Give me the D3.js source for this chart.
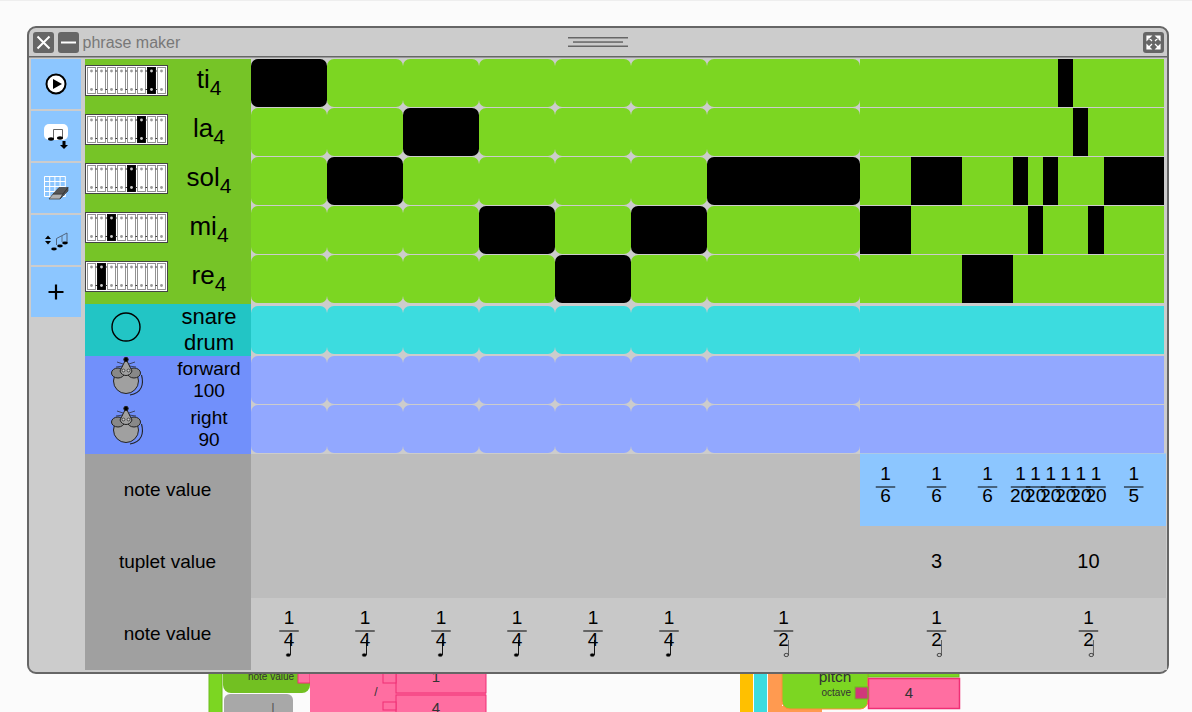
<!DOCTYPE html>
<html>
<head>
<meta charset="utf-8">
<title>phrase maker</title>
<script src="https://cdn.jsdelivr.net/npm/d3@7"></script>
<style>
	html, body { margin: 0; padding: 0; background: #fbfbfb; overflow: hidden; }
	svg { display: block; }
	text { font-family: "Liberation Sans", sans-serif; fill: #000; }
</style>
</head>
<body>
<script>
//--------------------------------------------------------------------------
// Chart values
//--------------------------------------------------------------------------
var pitchNames = ["ti", "la", "sol", "mi", "re"];
var pitchOctaves = [4, 4, 4, 4, 4];
var pitchKeys = [6, 5, 4, 2, 1];
var pitchCells = [[0, 13], [2, 14], [1, 6, 8, 10, 12, 16], [3, 5, 7, 11, 15], [4, 9]];

var drumLabels = ["snare", "drum"];
var mouseLabels = [["forward", "100"], ["right", "90"]];

// one entry per column of the top note value row
var cellDenoms = [4, 4, 4, 4, 4, 4, 2, 6, 6, 6, 20, 20, 20, 20, 20, 20, 5];
// the bottom note value row groups those columns
var groupDenoms = [4, 4, 4, 4, 4, 4, 2, 2, 2];
var tupletLabels = ["", "", "", "", "", "", "", "3", "10"];
var firstTupletCell = 7;
var rowTitles = ["note value", "tuplet value", "note value"];

//--------------------------------------------------------------------------
// Scales
//--------------------------------------------------------------------------
var cellEdges = [0].concat(Array.from(d3.cumsum(cellDenoms, function(d){ return 1 / d; })));
var groupEdges = [0].concat(Array.from(d3.cumsum(groupDenoms, function(d){ return 1 / d; })));

// the quarter notes, the half note and the tuplets do not get quite the same pixels per beat
var x = d3.scaleLinear().domain([0, 1.5, 2, 2.5, 3]).range([251, 707, 860, 1013, 1163.9]);
var y = d3.scaleLinear().domain([0, 1]).range([59, 108]);

var svg = d3.select("body").append("svg").attr("width", 1192).attr("height", 712);

function box(parent, bx, by, w, h, color, radius){
	return parent.append("rect").attr("x", bx).attr("y", by).attr("width", w).attr("height", h)
		.attr("rx", radius || 0).attr("fill", color);
}

function label(parent, tx, ty, str, size, color, anchor){
	return parent.append("text").attr("x", tx).attr("y", ty).attr("font-size", size)
		.attr("text-anchor", anchor || "middle").style("fill", color || "#000").text(str);
}

//--------------------------------------------------------------------------
// Blocks behind the window
//--------------------------------------------------------------------------
var blocks = svg.append("g");
box(blocks, 0, 0, 1192, 1, "#eeeeee");

box(blocks, 209, 660, 13, 60, "#7cd622").attr("stroke", "#6cbc1c");
box(blocks, 223, 660, 87, 33, "#72c022", 8);
box(blocks, 298, 672, 12, 11, "#ff6ea1").attr("stroke", "#ef2f74");
label(blocks, 271, 680, "note value", 10, "#333");
box(blocks, 224, 694, 69, 30, "#a8a8a8", 6);
label(blocks, 273, 712, "|", 13, "#555");
box(blocks, 310, 660, 176, 60, "#ff6ea1");
box(blocks, 396, 660, 90, 33, "#ff6ea1").attr("stroke", "#ef2f74");
box(blocks, 396, 695, 90, 30, "#ff6ea1").attr("stroke", "#ef2f74");
box(blocks, 383, 672, 13, 11, "#ff6ea1").attr("stroke", "#ef2f74");
box(blocks, 383, 702, 13, 8, "#ff6ea1").attr("stroke", "#ef2f74");
label(blocks, 436, 682, "1", 15, "#333");
label(blocks, 376, 696, "/", 12, "#333");
label(blocks, 436, 713, "4", 15, "#333");

box(blocks, 740, 660, 13, 52, "#ffc000");
box(blocks, 754, 660, 13, 52, "#3cdcdf");
box(blocks, 768, 660, 14, 52, "#ff9a50");
box(blocks, 782, 706, 40, 6, "#ff9a50");
box(blocks, 782, 660, 86, 49, "#7cd622", 8).attr("stroke", "#ff8c36");
box(blocks, 868, 660, 91, 17, "#7cd622").attr("stroke", "#6cbc1c");
box(blocks, 868.5, 678.5, 91, 30, "#ff6ea1").attr("stroke", "#ef2f74").attr("stroke-width", 1.5);
box(blocks, 855, 687, 13, 12, "#d0387a").attr("stroke", "#6cbc1c");
label(blocks, 835, 682, "pitch", 15.5, "#333");
label(blocks, 851, 696, "octave", 10, "#333", "end");
label(blocks, 909, 698, "4", 15, "#333");

//--------------------------------------------------------------------------
// Window frame and title bar
//--------------------------------------------------------------------------
var win = svg.append("g");
win.append("rect").attr("x", 28).attr("y", 27).attr("width", 1140).attr("height", 646).attr("rx", 8)
	.attr("fill", "#cccccc").attr("stroke", "#666666").attr("stroke-width", 2);
box(win, 29, 56, 1138, 1.5, "#666666");

label(win, 82.5, 48, "phrase maker", 16, "#787878", "start");

function titleButton(bx){
	return box(win, bx, 32, 21, 21, "#666666", 3);
}
titleButton(33);
titleButton(58);
titleButton(1143);
win.append("path").attr("d", "M37.5,36.5L49.5,48.5M49.5,36.5L37.5,48.5").attr("stroke", "#fff").attr("stroke-width", 2);
win.append("path").attr("d", "M61,42.5H76").attr("stroke", "#fff").attr("stroke-width", 2);
win.append("path")
	.attr("d", "M1147,36H1151L1147,40ZM1160,36H1156L1160,40ZM1147,49H1151L1147,45ZM1160,49H1156L1160,45Z" +
		"M1148,37L1152,41M1159,37L1155,41M1148,48L1152,44M1159,48L1155,44")
	.attr("fill", "#fff").attr("stroke", "#fff").attr("stroke-width", 1.2);

box(win, 568, 37, 60, 1.5, "#666666");
box(win, 573, 41.3, 50, 1.5, "#666666");
box(win, 568, 45.5, 60, 1.5, "#666666");

//--------------------------------------------------------------------------
// Side toolbar
//--------------------------------------------------------------------------
var toolbar = svg.append("g");
d3.range(5).forEach(function(i){
	box(toolbar, 31, 59 + i * 52, 50, 50, "#8cc6ff");
});

// play
toolbar.append("circle").attr("cx", 56).attr("cy", 84).attr("r", 9.5)
	.attr("fill", "#fff").attr("stroke", "#000").attr("stroke-width", 2);
toolbar.append("path").attr("d", "M53,79L62,84L53,89Z").attr("fill", "#000");

// save notes
box(toolbar, 44, 124, 24, 16, "#fff", 5);
toolbar.append("path").attr("d", "M53.5,139V129.5H62.5V138").attr("fill", "none").attr("stroke", "#555").attr("stroke-width", 0.9);
toolbar.append("ellipse").attr("cx", 51).attr("cy", 139).attr("rx", 3).attr("ry", 1.7).attr("fill", "#000");
toolbar.append("ellipse").attr("cx", 60).attr("cy", 138).attr("rx", 3).attr("ry", 1.7).attr("fill", "#000");
toolbar.append("path").attr("d", "M62.5,141H65.5V145H68L64,149L60,145H62.5Z").attr("fill", "#000");

// erase grid
var gridIcon = toolbar.append("g").attr("stroke", "#fff").attr("stroke-width", 1).attr("fill", "none");
d3.range(5).forEach(function(i){
	gridIcon.append("path").attr("d", "M" + (44.5 + i * 5.2) + ",176.5V196.5");
	gridIcon.append("path").attr("d", "M44.5," + (176.5 + i * 5) + "H65.5");
});
toolbar.append("path").attr("d", "M49,199L53,194H63L60,199Z").attr("fill", "#b0b0b0").attr("stroke", "#444").attr("stroke-width", 0.8);
toolbar.append("path").attr("d", "M53,194L59,187.5H68L63,194Z M63,194L68,187.5V191L60,199Z").attr("fill", "#555").attr("stroke", "#333").attr("stroke-width", 0.6);

// sort pitches
toolbar.append("path").attr("d", "M45,239L48,235.5L51,239ZM45,241L48,244.5L51,241Z").attr("fill", "#000");
toolbar.append("path").attr("d", "M56.5,245V238.5L67,233V243").attr("fill", "none").attr("stroke", "#4a5a70").attr("stroke-width", 0.9);
toolbar.append("path").attr("d", "M62,242V236").attr("stroke", "#4a5a70").attr("stroke-width", 0.8);
toolbar.append("ellipse").attr("cx", 54).attr("cy", 249).attr("rx", 2.8).attr("ry", 1.4).attr("fill", "#000");
toolbar.append("ellipse").attr("cx", 60).attr("cy", 246).attr("rx", 2.8).attr("ry", 1.4).attr("fill", "#000");
toolbar.append("ellipse").attr("cx", 65).attr("cy", 243).attr("rx", 2.8).attr("ry", 1.4).attr("fill", "#000");

// add
toolbar.append("path").attr("d", "M48.5,292H63.5M56,284.5V299.5").attr("stroke", "#000").attr("stroke-width", 2.2);

//--------------------------------------------------------------------------
// Row headers
//--------------------------------------------------------------------------
var headers = svg.append("g");
box(headers, 85, 59, 166, 245, "#76c427");
box(headers, 85, 304, 166, 52, "#22c5c5");
box(headers, 85, 356, 166, 98, "#7190fb");
box(headers, 85, 454, 166, 216, "#a0a0a0");

function drawKeys(top, activeKey){
	var g = headers.append("g");
	g.append("rect").attr("x", 85.5).attr("y", top + 0.5).attr("width", 82).attr("height", 30)
		.attr("fill", "#fff").attr("stroke", "#444").attr("stroke-width", 1);
	d3.range(8).forEach(function(k){
		var kx = 87.5 + k * 10;
		var on = k === activeKey;
		g.append("rect").attr("x", kx).attr("y", top + 2.5).attr("width", 8).attr("height", 26)
			.attr("fill", on ? "#000" : "#fff").attr("stroke", on ? "#000" : "#888").attr("stroke-width", 0.9);
		[top + 6, top + 24.5].forEach(function(dotY){
			g.append("circle").attr("cx", kx + 4).attr("cy", dotY).attr("r", 1.4)
				.attr("fill", on ? "#ccc" : "#999");
			if(k < 7){
				g.append("rect").attr("x", kx + 8).attr("y", dotY - 0.5).attr("width", 2).attr("height", 1).attr("fill", "#333");
			}
		});
	});
}

pitchNames.forEach(function(name, i){
	var top = y(i);
	drawKeys(top + 6, pitchKeys[i]);
	var t = label(headers, 209, top + 29, null, 26);
	t.append("tspan").text(name);
	t.append("tspan").attr("font-size", 21).attr("dy", 7).text(pitchOctaves[i]);
});

label(headers, 209, 324, drumLabels[0], 22);
label(headers, 209, 350, drumLabels[1], 22);
headers.append("circle").attr("cx", 126).attr("cy", 327).attr("r", 14)
	.attr("fill", "none").attr("stroke", "#000").attr("stroke-width", 1.4);

function drawMouse(top){
	var g = headers.append("g").attr("transform", "translate(126," + top + ")")
		.attr("stroke", "#222").attr("stroke-width", 1).attr("fill", "#a0a0a0");
	g.append("path").attr("d", "M15.5,17C18,26 16,35 4,37").attr("fill", "none").attr("stroke-width", 1.1);
	g.append("ellipse").attr("cx", 0).attr("cy", 23).attr("rx", 12.5).attr("ry", 12.5);
	g.append("ellipse").attr("cx", -8).attr("cy", 15).attr("rx", 6.5).attr("ry", 5).attr("fill", "#888");
	g.append("ellipse").attr("cx", 8).attr("cy", 15).attr("rx", 6.5).attr("ry", 5).attr("fill", "#888");
	g.append("path").attr("d", "M0,1L6,13C4,19 -4,19 -6,13Z");
	g.append("path").attr("d", "M-3,6L-9,4M-3,8L-10,9M3,6L9,4M3,8L10,9").attr("fill", "none").attr("stroke-width", 0.7);
	g.append("circle").attr("cy", 1.5).attr("r", 2.2).attr("fill", "#000");
	g.append("circle").attr("cx", -2.5).attr("cy", 12.5).attr("r", 1.4).attr("fill", "#ccc").attr("stroke-width", 0.7);
	g.append("circle").attr("cx", 2.5).attr("cy", 12.5).attr("r", 1.4).attr("fill", "#ccc").attr("stroke-width", 0.7);
}

mouseLabels.forEach(function(lines, i){
	var top = y(6 + i) + 3;
	drawMouse(top + 2);
	label(headers, 209, top + 19, lines[0], 19);
	label(headers, 209, top + 41, lines[1], 19);
});

rowTitles.forEach(function(title, i){
	label(headers, 167.5, 496 + i * 72, title, 19);
});

//--------------------------------------------------------------------------
// Matrix cells
//--------------------------------------------------------------------------
var matrix = svg.append("g");
box(matrix, 251, 454, 915, 144, "#bdbdbd");
box(matrix, 251, 598, 916, 72, "#c8c8c8");

function drawRow(top, color, activeCells){
	var cells = matrix.append("g").selectAll("rect").data(cellDenoms).join("rect")
		.attr("x", function(d, i){ return Math.round(x(cellEdges[i])); })
		.attr("y", top)
		.attr("width", function(d, i){ return Math.round(x(cellEdges[i + 1])) - Math.round(x(cellEdges[i])); })
		.attr("height", 48)
		.attr("rx", function(d, i){ return i < firstTupletCell ? 7 : 0; })
		.attr("fill", function(d, i){ return activeCells.indexOf(i) >= 0 ? "#000" : color; });
	return cells;
}

pitchNames.forEach(function(name, i){
	drawRow(y(i), "#7cd622", pitchCells[i]);
});
drawRow(y(5) + 2, "#3cdcdf", []);
drawRow(y(6) + 3, "#92a8ff", []);
drawRow(y(7) + 3, "#92a8ff", []);

var tupletX = Math.round(x(cellEdges[firstTupletCell]));
box(matrix, tupletX, 453.5, 1166 - tupletX, 72.5, "#8cc6ff");

//--------------------------------------------------------------------------
// Note values
//--------------------------------------------------------------------------
function drawFraction(g, cx, baseline, denom){
	label(g, cx, baseline, "1", 19);
	g.append("rect").attr("x", cx - 9.75).attr("y", baseline + 6.5).attr("width", 19.5).attr("height", 1).attr("fill", "#000");
	label(g, cx, baseline + 22, denom, 19);
}

var values = svg.append("g");

// only the tuplet columns show their note value in the top row
cellDenoms.forEach(function(denom, i){
	if(i >= firstTupletCell){
		drawFraction(values, x((cellEdges[i] + cellEdges[i + 1]) / 2), 480, denom);
	}
});

groupDenoms.forEach(function(denom, i){
	var cx = x((groupEdges[i] + groupEdges[i + 1]) / 2);
	drawFraction(values, cx, 624, denom);
	if(tupletLabels[i] !== ""){
		label(values, cx, 568, tupletLabels[i], 20);
	}
	var stemX = cx + (denom === 4 ? 1.5 : 5);
	values.append("path").attr("d", "M" + stemX + ",640V655")
		.attr("stroke", denom === 4 ? "#000" : "#333").attr("stroke-width", denom === 4 ? 0.9 : 0.7);
	values.append("ellipse").attr("cx", stemX - 2.2).attr("cy", 655).attr("rx", 2.2).attr("ry", 1.6)
		.attr("fill", denom === 4 ? "#000" : "none").attr("stroke", "#333").attr("stroke-width", denom === 4 ? 0.4 : 0.9);
});
</script>
</body>
</html>
